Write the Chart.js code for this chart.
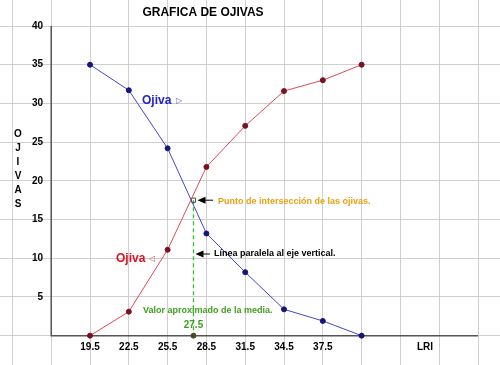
<!DOCTYPE html>
<html>
<head>
<meta charset="utf-8">
<script src="https://cdn.jsdelivr.net/npm/chart.js@4.4.1/dist/chart.umd.min.js"></script>
<style>
  body { margin: 0; background: #fff; }
  #ojivas { display: block; }
</style>
</head>
<body>
<canvas id="ojivas" width="500" height="365"></canvas>
<script>
// datos de las ojivas (limites reales inferiores y frecuencias acumuladas)
const lri = [19.5, 22.5, 25.5, 28.5, 31.5, 34.5, 37.5, 40.5];
const ojivaMayor = [35, 31.7, 24.2, 13.2, 8.2, 3.4, 1.9, 0]; // azul
const ojivaMenor = [0, 3.1, 11.1, 21.8, 27.1, 31.6, 33, 35]; // roja

// punto de interseccion y valor aproximado de la media
const interX = 27.5;
const interY = 17.5;

// etiquetas de los ejes
const xTickLabels = [19.5, 22.5, 25.5, 28.5, 31.5, 34.5, 37.5];
const yTickLabels = [5, 10, 15, 20, 25, 30, 35, 40];
const xGrid = [13.5, 16.5, 19.5, 22.5, 25.5, 28.5, 31.5, 34.5, 37.5, 40.5, 43.5, 46.5, 49.5];
const yGrid = [0, 5, 10, 15, 20, 25, 30, 35, 40];

const fuente = '"Liberation Sans", Arial, sans-serif';

function puntos(ys) {
  return lri.map((x, i) => ({ x: x, y: ys[i] }));
}

// dibuja ejes, flechas y textos encima de la grilla
const extras = {
  id: 'extras',
  beforeDatasetsDraw(chart) {
    const ctx = chart.ctx;
    const sx = chart.scales.x, sy = chart.scales.y;
    ctx.save();
    ctx.strokeStyle = '#555';
    ctx.lineWidth = 1.5;
    ctx.beginPath();
    ctx.moveTo(sx.getPixelForValue(16.5), sy.getPixelForValue(40));
    ctx.lineTo(sx.getPixelForValue(16.5), sy.getPixelForValue(0));
    ctx.lineTo(sx.getPixelForValue(49.5), sy.getPixelForValue(0));
    ctx.stroke();
    ctx.restore();
  },
  afterDatasetsDraw(chart) {
    const ctx = chart.ctx;
    const sx = chart.scales.x, sy = chart.scales.y;
    ctx.save();
    ctx.textBaseline = 'middle';

    // titulo
    ctx.fillStyle = '#000';
    ctx.font = 'bold 12px ' + fuente;
    ctx.textAlign = 'center';
    ctx.fillText('GRAFICA DE OJIVAS', 203, 13);

    // etiquetas eje y
    ctx.font = 'bold 10px ' + fuente;
    ctx.textAlign = 'right';
    yTickLabels.forEach(v => ctx.fillText(String(v), 43, sy.getPixelForValue(v)));

    // etiquetas eje x
    ctx.textAlign = 'center';
    xTickLabels.forEach(v => ctx.fillText(v.toFixed(1), sx.getPixelForValue(v), 347));
    ctx.fillText('LRI', 425, 347);

    // titulo vertical
    'OJIVAS'.split('').forEach((c, i) => ctx.fillText(c, 18, 134 + i * 14));

    // nombres de las ojivas
    ctx.textAlign = 'left';
    ctx.font = 'bold 12px ' + fuente;
    ctx.fillStyle = '#2222cc';
    ctx.fillText('Ojiva', 142, 101);
    ctx.font = '8px "DejaVu Sans", sans-serif';
    ctx.fillStyle = '#6666cc';
    ctx.fillText('▷', 176, 101);
    ctx.font = 'bold 12px ' + fuente;
    ctx.fillStyle = '#dd1122';
    ctx.fillText('Ojiva', 116, 259);
    ctx.font = '8px "DejaVu Sans", sans-serif';
    ctx.fillStyle = '#dd5566';
    ctx.fillText('◁', 149, 259);

    // flechas
    function flecha(x1, x2, y) {
      ctx.strokeStyle = '#000';
      ctx.fillStyle = '#000';
      ctx.lineWidth = 1;
      ctx.beginPath();
      ctx.moveTo(x1, y);
      ctx.lineTo(x2 + 6, y);
      ctx.stroke();
      ctx.beginPath();
      ctx.moveTo(x2, y);
      ctx.lineTo(x2 + 8, y - 3.5);
      ctx.lineTo(x2 + 8, y + 3.5);
      ctx.closePath();
      ctx.fill();
    }
    const px = sx.getPixelForValue(interX);
    flecha(213, px + 4, sy.getPixelForValue(interY));
    flecha(210, px + 2, 254);

    // anotaciones
    ctx.font = 'bold 9px ' + fuente;
    ctx.fillStyle = '#eaa010';
    ctx.fillText('Punto de intersección de las ojivas.', 218, sy.getPixelForValue(interY) + 1);
    ctx.fillStyle = '#000';
    ctx.fillText('Línea paralela al eje vertical.', 214, 254);
    ctx.fillStyle = '#3f9f1f';
    ctx.fillText('Valor aproximado de la media.', 143, 311);
    ctx.font = 'bold 10px ' + fuente;
    ctx.textAlign = 'center';
    ctx.fillText(interX.toFixed(1), px, 325);
    ctx.restore();
  }
};

var datos = {
  datasets: [
    {
      label: 'Ojiva mayor',
      data: puntos(ojivaMayor),
      borderColor: '#4444d0',
      borderWidth: 1,
      pointRadius: 2.5,
      pointBackgroundColor: '#15157a',
      pointBorderColor: '#15157a',
      showLine: true
    },
    {
      label: 'Ojiva menor',
      data: puntos(ojivaMenor),
      borderColor: '#e04858',
      borderWidth: 1,
      pointRadius: 2.5,
      pointBackgroundColor: '#7a1020',
      pointBorderColor: '#7a1020',
      showLine: true
    },
    {
      label: 'Paralela',
      data: [{ x: interX, y: interY }, { x: interX, y: 0 }],
      borderColor: '#22cc22',
      borderWidth: 1.3,
      borderDash: [4, 3],
      pointRadius: [3, 2.5],
      pointStyle: ['rect', 'circle'],
      pointBackgroundColor: ['rgba(0,0,0,0)', '#4a4a20'],
      pointBorderColor: '#4a4a20',
      pointBorderWidth: 1,
      showLine: true
    }
  ]
};

var opciones = {
  responsive: false,
  animation: false,
  layout: { padding: 0, autoPadding: false },
  scales: {
    x: {
      type: 'linear',
      min: 12.54,
      max: 51.2,
      afterBuildTicks: s => { s.ticks = xGrid.map(v => ({ value: v })); },
      afterFit: s => { s.height = 0; },
      ticks: { display: false },
      border: { display: false },
      grid: { color: '#cfcfcf', drawTicks: false }
    },
    y: {
      type: 'linear',
      min: -3.79,
      max: 43.36,
      afterBuildTicks: s => { s.ticks = yGrid.map(v => ({ value: v })); },
      afterFit: s => { s.width = 0; },
      ticks: { display: false },
      border: { display: false },
      grid: { color: '#cfcfcf', drawTicks: false }
    }
  },
  plugins: {
    legend: { display: false },
    tooltip: { enabled: false }
  }
};

const grafica = new Chart(document.getElementById('ojivas'), {
  type: 'scatter',
  data: datos,
  options: opciones,
  plugins: [extras]
});
</script>
</body>
</html>
